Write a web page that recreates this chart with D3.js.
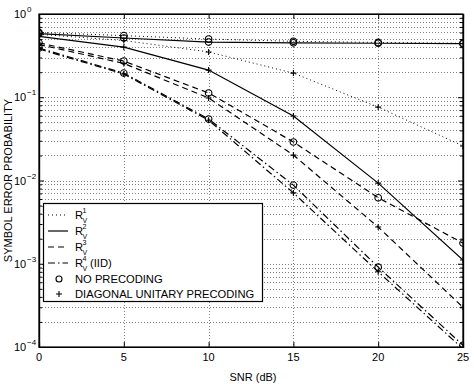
<!DOCTYPE html>
<html>
<head>
<meta charset="utf-8">
<script src="https://cdn.jsdelivr.net/npm/d3@7"></script>
<style>
  body { margin: 0; background: #fff; }
  text { font-family: "Liberation Sans", Arial, sans-serif; fill: #000; }
</style>
</head>
<body>
<script>
// data
var snr = [0, 5, 10, 15, 20, 25];
var r1None = [0.60, 0.55, 0.50, 0.47, 0.455, 0.445];
var r1Diag = [0.57, 0.48, 0.35, 0.195, 0.076, 0.026];
var r2None = [0.58, 0.515, 0.46, 0.45, 0.445, 0.44];
var r2Diag = [0.54, 0.40, 0.212, 0.0595, 0.0093, 0.00111];
var r3None = [0.45, 0.272, 0.1125, 0.029, 0.0062, 0.00177];
var r3Diag = [0.43, 0.255, 0.098, 0.0202, 0.00276, 0.0003];
var r4None = [0.39, 0.195, 0.0548, 0.0088, 0.00091, 0.000105];
var r4Diag = [0.38, 0.19, 0.053, 0.0071, 0.0008, 0.000095];
var xTicks = [0, 5, 10, 15, 20, 25];
var yExponents = [0, -1, -2, -3, -4];
var legendR = ["1", "2", "3", "4"];

var W = 474, H = 384;
var margin = {top: 14, right: 11, bottom: 37, left: 39};

var svg = d3.select("body").append("svg")
    .attr("width", W)
    .attr("height", H);

var x = d3.scaleLinear().domain([0, 25]).range([margin.left, W - margin.right]);
var y = d3.scaleLog().domain([1e-4, 1]).range([H - margin.bottom, margin.top]);

// minor values 2..9 per decade
var minor = [];
yExponents.slice(0, 4).forEach(function(e) {
  for (var m = 2; m <= 9; m++) minor.push(m * Math.pow(10, e - 1));
});
var major = yExponents.map(function(e) { return Math.pow(10, e); });

// grid
var grid = svg.append("g").attr("stroke", "#808080").attr("stroke-width", 1)
    .attr("stroke-dasharray", "1,2");
grid.selectAll(".hg").data(major.concat(minor)).enter().append("line")
    .attr("x1", x(0)).attr("x2", x(25))
    .attr("y1", function(d) { return Math.round(y(d)) + 0.5; })
    .attr("y2", function(d) { return Math.round(y(d)) + 0.5; });
grid.selectAll(".vg").data(xTicks).enter().append("line")
    .attr("y1", y(1)).attr("y2", y(1e-4))
    .attr("x1", function(d) { return Math.round(x(d)) + 0.5; })
    .attr("x2", function(d) { return Math.round(x(d)) + 0.5; });

// axes with inward ticks on all sides
var fmt = function() { return ""; };
svg.append("g").attr("transform", "translate(0," + y(1e-4) + ")")
  .call(d3.axisBottom(x).tickValues(xTicks).tickSize(-5).tickFormat(fmt));
svg.append("g").attr("transform", "translate(0," + y(1) + ")")
  .call(d3.axisTop(x).tickValues(xTicks).tickSize(-5).tickFormat(fmt));
svg.append("g").attr("transform", "translate(" + x(0) + ",0)")
  .call(d3.axisLeft(y).tickValues(major).tickSize(-5).tickFormat(fmt));
svg.append("g").attr("transform", "translate(" + x(0) + ",0)")
  .call(d3.axisLeft(y).tickValues(minor).tickSize(-3).tickFormat(fmt));
svg.append("g").attr("transform", "translate(" + x(25) + ",0)")
  .call(d3.axisRight(y).tickValues(major).tickSize(-5).tickFormat(fmt));
svg.append("g").attr("transform", "translate(" + x(25) + ",0)")
  .call(d3.axisRight(y).tickValues(minor).tickSize(-3).tickFormat(fmt));
svg.selectAll(".domain").attr("stroke", "#000").attr("stroke-width", 1.2);
svg.selectAll(".tick line").attr("stroke", "#000");

// tick labels
svg.selectAll(".xl").data(xTicks).enter().append("text")
    .attr("x", function(d) { return x(d); })
    .attr("y", y(1e-4) + 14)
    .attr("text-anchor", "middle")
    .style("font-size", "11px")
    .text(function(d) { return d; });

var yl = svg.selectAll(".yl").data(yExponents).enter().append("g")
    .attr("transform", function(d) { return "translate(14," + y(Math.pow(10, d)) + ")"; });
yl.append("text").attr("x", 0).attr("y", 4).style("font-size", "11px").text("10");
yl.append("text").attr("x", 13).attr("y", -2).style("font-size", "8px")
    .text(function(d) { return d === 0 ? "0" : "\u2212" + (-d); });

svg.append("text")
    .attr("x", (x(0) + x(25)) / 2 + 2)
    .attr("y", H - 3)
    .attr("text-anchor", "middle")
    .style("font-size", "11px")
    .text("SNR (dB)");
svg.append("text")
    .attr("transform", "translate(12," + (y(1) + y(1e-4)) / 2 + ") rotate(-90)")
    .attr("text-anchor", "middle")
    .style("font-size", "11px")
    .text("SYMBOL ERROR PROBABILITY");

// series
var dashes = ["1,3", null, "6,4", "7,3,1.5,3"];
var series = [
  {v: r1None, d: dashes[0], m: "o"}, {v: r1Diag, d: dashes[0], m: "+"},
  {v: r2None, d: dashes[1], m: "o"}, {v: r2Diag, d: dashes[1], m: "+"},
  {v: r3None, d: dashes[2], m: "o"}, {v: r3Diag, d: dashes[2], m: "+"},
  {v: r4None, d: dashes[3], m: "o"}, {v: r4Diag, d: dashes[3], m: "+"}
];

svg.append("clipPath").attr("id", "clip").append("rect")
    .attr("x", x(0)).attr("y", y(1))
    .attr("width", x(25) - x(0)).attr("height", y(1e-4) - y(1));

var plot = svg.append("g").attr("clip-path", "url(#clip)");
var line = d3.line().x(function(d, i) { return x(snr[i]); }).y(function(d) { return y(d); });

series.forEach(function(s) {
  plot.append("path")
      .attr("d", line(s.v))
      .attr("fill", "none")
      .attr("stroke", "#000")
      .attr("stroke-width", s.d === "1,3" ? 1 : 1.2)
      .attr("stroke-dasharray", s.d);
  var pts = plot.selectAll(null).data(s.v).enter().append("g")
      .attr("transform", function(d, i) { return "translate(" + x(snr[i]) + "," + y(d) + ")"; });
  if (s.m === "o") {
    pts.append("circle").attr("r", 3.3).attr("fill", "none").attr("stroke", "#000").attr("stroke-width", 1.1);
  } else {
    pts.append("path").attr("d", "M-3,0H3M0,-3V3").attr("stroke", "#000").attr("stroke-width", 1.1);
  }
});

// frame on top
svg.append("rect")
    .attr("x", x(0)).attr("y", y(1))
    .attr("width", x(25) - x(0)).attr("height", y(1e-4) - y(1))
    .attr("fill", "none").attr("stroke", "#000").attr("stroke-width", 1.2);

// legend
var lg = svg.append("g");
lg.append("rect").attr("x", 43.5).attr("y", 203.5).attr("width", 219).attr("height", 98)
    .attr("fill", "#fff").attr("stroke", "#000").attr("stroke-width", 1.2);
var rows = [215, 231, 247, 263, 279, 294];
legendR.forEach(function(r, i) {
  lg.append("line").attr("x1", 48).attr("x2", 68)
      .attr("y1", rows[i]).attr("y2", rows[i])
      .attr("stroke", "#000").attr("stroke-width", dashes[i] === "1,3" ? 1 : 1.2)
      .attr("stroke-dasharray", dashes[i]);
  lg.append("text").attr("x", 75).attr("y", rows[i] + 4).style("font-size", "11.2px").text("R");
  lg.append("text").attr("x", 82.5).attr("y", rows[i] - 2.5).style("font-size", "7px").text(r);
  lg.append("text").attr("x", 82.5).attr("y", rows[i] + 7.5).style("font-size", "7px").text("V");
  if (i === 3) lg.append("text").attr("x", 90).attr("y", rows[i] + 4).style("font-size", "11.2px").text("(IID)");
});
lg.append("circle").attr("cx", 59).attr("cy", rows[4]).attr("r", 3)
    .attr("fill", "none").attr("stroke", "#000").attr("stroke-width", 1.1);
lg.append("text").attr("x", 75).attr("y", rows[4] + 4).style("font-size", "11.2px").text("NO PRECODING");
lg.append("path").attr("d", "M56," + rows[5] + "H62M59," + (rows[5] - 3) + "V" + (rows[5] + 3))
    .attr("stroke", "#000").attr("stroke-width", 1.1);
lg.append("text").attr("x", 75).attr("y", rows[5] + 4).style("font-size", "11.2px").text("DIAGONAL UNITARY PRECODING");
</script>
</body>
</html>
